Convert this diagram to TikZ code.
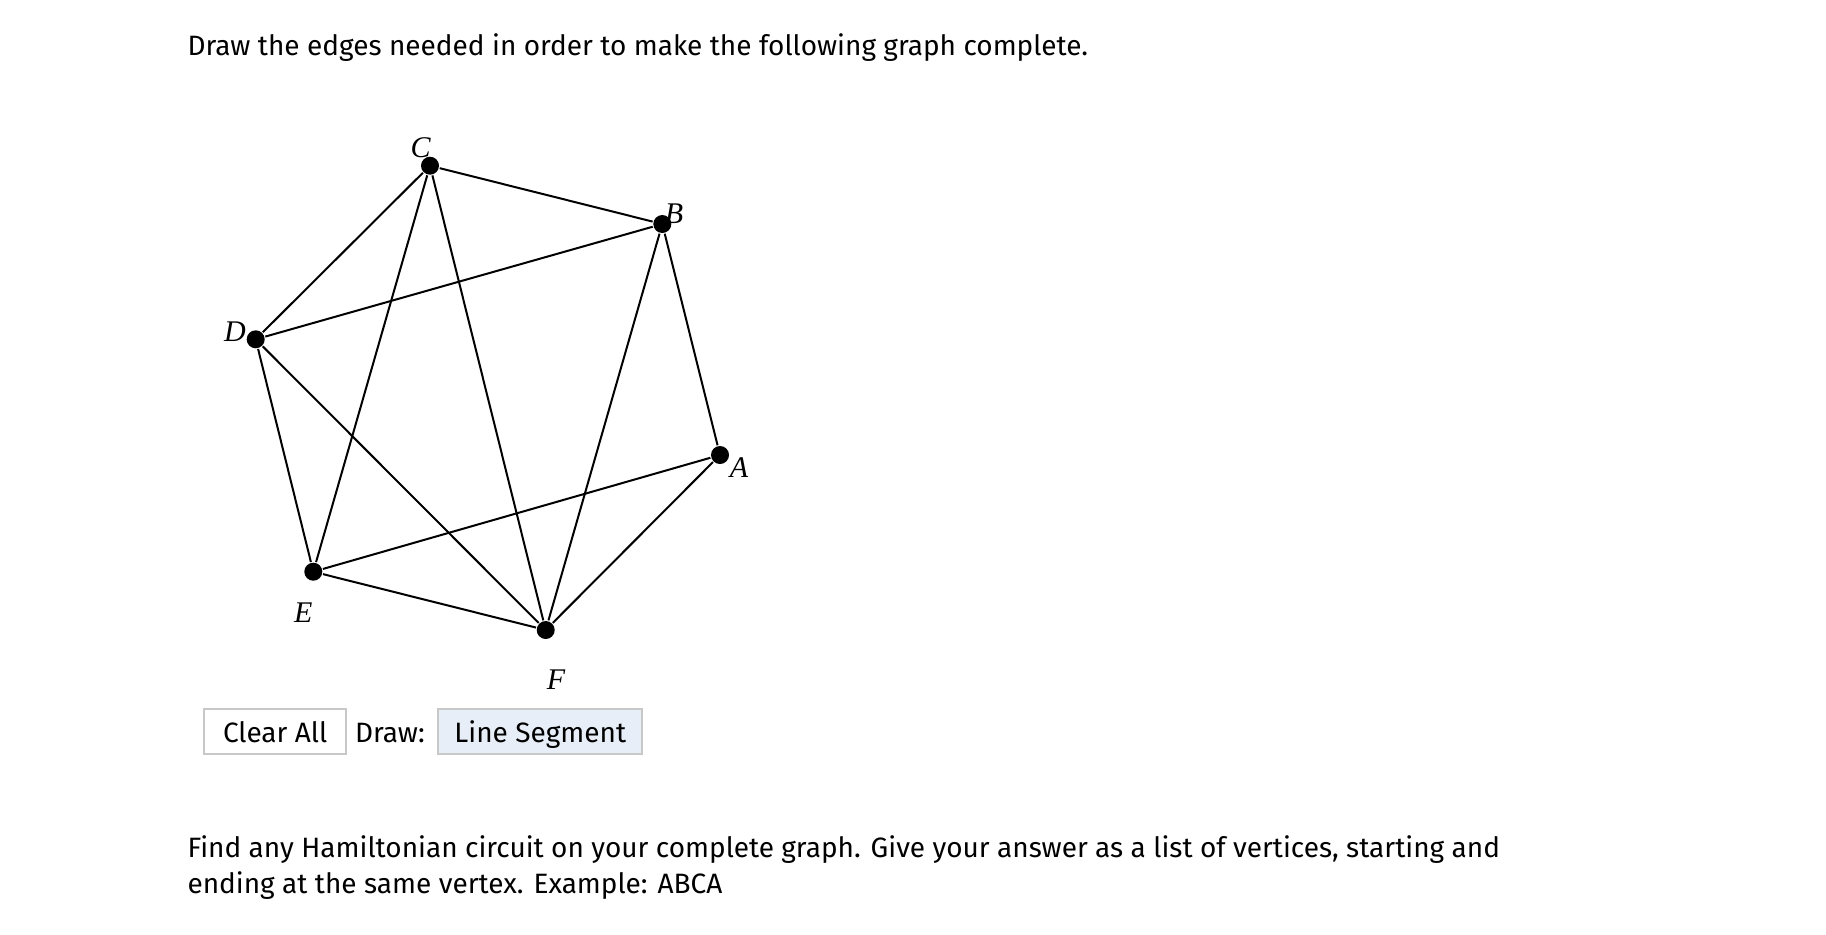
\documentclass[tikz,border=0pt]{standalone}
\usepackage{fontspec}
\setmainfont{Liberation Serif}
\setsansfont{Fira Sans}
\definecolor{btnline}{HTML}{C8C8C8}
\definecolor{btnfill}{HTML}{E8EEF7}

\begin{document}
\begin{tikzpicture}[x=0.5pt, y=-0.5pt, line width=1pt,
  vert/.style={circle, fill=black, inner sep=0pt, minimum size=9pt},
  vlab/.style={font=\fontsize{15}{18}\selectfont\itshape, inner sep=0pt},
  txt/.style={font=\sffamily\fontsize{14}{17}\selectfont, anchor=base west, inner sep=0pt},
  btn/.style={draw=btnline, line width=1pt, font=\sffamily\fontsize{14}{17}\selectfont,
    text height=12pt, text depth=1.2pt, minimum height=22.5pt, inner xsep=0pt}]
  \useasboundingbox (0,0) rectangle (1826,934);
  % texts
  \node[txt] (ask) at (186.5,55) {Draw the edges needed in order to make the following graph complete.};
  \node[txt] (find1) at (186.5,857) {Find any Hamiltonian circuit on your complete graph. Give your answer as a list of vertices, starting and};
  \node[txt] (find2) at (186.5,893) {ending at the same vertex. Example: ABCA};
  % vertices
  \node[vert] (C) at (430,165.7) {};
  \node[vert] (B) at (662.3,224) {};
  \node[vert] (D) at (255.7,339.3) {};
  \node[vert] (A) at (720,455) {};
  \node[vert] (E) at (313.3,571.7) {};
  \node[vert] (F) at (545.7,630) {};
  \node[vlab] (lC) at (420.7,147.3) {C};
  \node[vlab] (lB) at (674,214) {B};
  \node[vlab] (lD) at (235,331.7) {D};
  \node[vlab] (lA) at (739,467.3) {A};
  \node[vlab] (lE) at (303.3,612.7) {E};
  \node[vlab] (lF) at (556,680) {F};
  % edges
  \foreach \a/\b in {C/B, C/D, C/E, C/F, B/D, B/F, B/A, D/E, D/F, A/E, A/F, E/F}
    \draw (\a) -- (\b);
  % buttons
  \node[btn, fill=white, minimum width=71pt] (clear) at (275.2,731.7) {Clear All};
  \node[txt] (drawlab) at (354,742.5) {Draw:};
  \node[btn, fill=btnfill, minimum width=102pt] (seg) at (540.3,731.7) {Line Segment};
\end{tikzpicture}
\end{document}
